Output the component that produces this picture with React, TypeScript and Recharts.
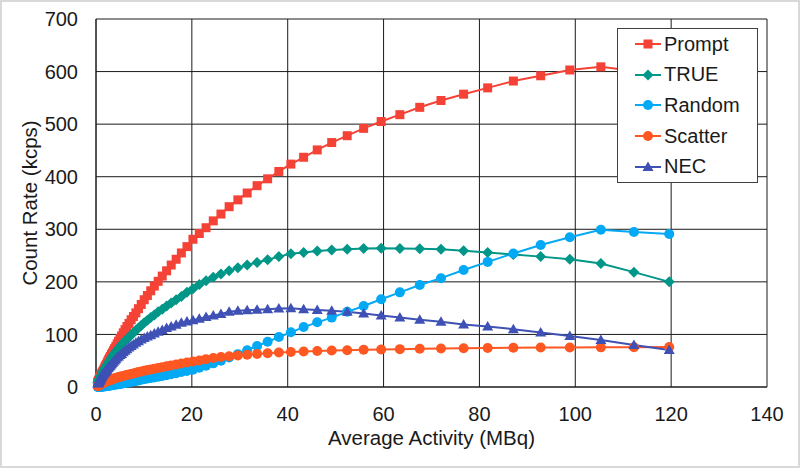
import React from "react";
import { LineChart, Line, XAxis, YAxis, CartesianGrid, Legend } from "recharts";

// Average activity per frame (MBq), first frame = highest activity
const activity = [
  119.6, 112.24, 105.34, 98.86, 92.78, 87.08, 81.72, 76.7, 71.98, 67.55,
  63.4, 59.5, 55.84, 52.41, 49.18, 46.16, 43.32, 40.66, 38.15, 35.81,
  33.61, 31.54, 29.6, 27.78, 26.07, 24.47, 22.96, 21.55, 20.23, 18.98,
  17.81, 16.72, 15.69, 14.73, 13.82, 12.97, 12.17, 11.42, 10.72, 10.06,
  9.44, 8.86, 8.32, 7.81, 7.33, 6.88, 6.45, 6.06, 5.68, 5.33,
  5.01, 4.7, 4.41, 4.14, 3.88, 3.64, 3.42, 3.21, 3.01, 2.83,
  2.65, 2.49, 2.34, 2.19, 2.06, 1.93, 1.81, 1.7, 1.6, 1.5,
  1.41, 1.32, 1.24, 1.16, 1.09, 1.02, 0.96, 0.9, 0.85, 0.79,
  0.75, 0.7, 0.66, 0.62, 0.58, 0.54, 0.51, 0.48, 0.45, 0.42,
  0.4,
];

// Count rates (kcps)
const prompt = [
  588, 601, 609, 603, 592, 582, 569, 557, 545, 532,
  518, 505, 492, 478, 465, 451, 437, 424, 410, 396,
  383, 369, 356, 343, 329, 316, 303, 292, 281, 267,
  255, 243, 232, 221, 211, 201, 192, 183, 174, 166,
  157, 149, 141, 134, 128, 121, 115, 109, 103, 97,
  92, 87, 82, 77, 73, 69, 65, 62, 58, 55,
  52, 49, 46, 43, 41, 39, 36, 34, 32, 30,
  29, 27, 26, 24, 23, 21, 20, 19, 18, 17,
  16, 15, 14, 13, 12.3, 11.5, 10.8, 10.2, 9.6, 9,
  8.5,
];

const trueRate = [
  200, 218.5, 235, 243, 248, 252, 256, 259, 262, 263,
  263.5, 264, 263.5, 262, 260.5, 258.5, 256, 253.5, 248, 242,
  237, 232, 227, 221, 215, 209, 202, 195, 187, 180,
  172, 166, 160, 154, 148, 143, 137, 132, 127, 122,
  117, 112, 108, 103, 99, 95, 91, 87, 84, 80,
  77, 73, 70, 67, 64, 61, 58, 55, 52, 49,
  47, 44, 42, 40, 38, 36, 34, 33, 31, 29,
  27, 25, 24, 22, 21, 20, 18.8, 17.6, 16.6, 15.4,
  14.6, 13.7, 12.9, 12.1, 11.3, 10.5, 9.9, 9.4, 8.8, 8.2,
  7.8,
];

const random = [
  291, 295, 299, 285, 270, 254, 238, 222.5, 207, 194,
  180, 167, 154, 143, 132, 123, 114, 104, 95, 86,
  78, 70, 62.5, 56, 50, 45, 40.5, 36.5, 33, 30.6,
  28.4, 26.3, 24.3, 22.5, 21, 19.5, 18, 17, 16, 15,
  13.7, 12.6, 11.6, 10.7, 9.8, 9, 8.3, 7.6, 7, 6.4,
  5.9, 5.4, 5, 4.6, 4.2, 3.8, 3.5, 3.2, 2.9, 2.7,
  2.4, 2.2, 2, 1.8, 1.6, 1.5, 1.4, 1.3, 1.2, 1.1,
  1, 0.9, 0.9, 0.8, 0.7, 0.7, 0.62, 0.58, 0.55, 0.5,
  0.47, 0.44, 0.41, 0.38, 0.35, 0.33, 0.31, 0.29, 0.27, 0.25,
  0.24,
];

const scatter = [
  76, 75.6, 75.4, 75.2, 75, 74.6, 74.2, 73.6, 73.2, 72.6,
  72, 71.5, 70.8, 70, 69.3, 68.5, 67.5, 66.5, 65.5, 64.3,
  63, 61.5, 60, 58.5, 57, 55, 53, 50.5, 48.5, 46.5,
  44.6, 42.8, 41.1, 39.5, 37.8, 36.2, 34.8, 33.4, 32.1, 30.9,
  29.6, 28.3, 27, 25.8, 24.7, 23.7, 22.7, 21.8, 20.9, 20.1,
  19.4, 18.7, 18, 17.1, 16.3, 15.5, 14.7, 14, 13.4, 12.8,
  12.2, 11.6, 11.1, 10.6, 10.2, 9.7, 9.1, 8.5, 8, 7.5,
  7, 6.6, 6.2, 5.8, 5.5, 5.1, 4.8, 4.5, 4.25, 3.95,
  3.75, 3.5, 3.3, 3.1, 2.9, 2.7, 2.55, 2.4, 2.25, 2.1,
  2,
];

const nec = [
  70.5, 80, 89.5, 97, 103.5, 110, 115, 119, 124, 128,
  132, 136, 140, 143.3, 145, 146.5, 148, 150, 149.5, 148,
  147, 146, 145, 143, 139, 136, 133, 130, 127, 124.5,
  122, 118.5, 115, 112, 108.5, 105, 102, 98.5, 96, 93,
  90.5, 87, 84, 81, 78, 75, 72, 69, 66, 63,
  60.7, 58, 56, 53, 50.5, 48, 45.7, 43.5, 41, 39.5,
  37.6, 36, 34, 32, 30.6, 29, 28, 26.7, 25.5, 24.3,
  23.3, 22.2, 21, 19.7, 18.5, 17.3, 16.3, 15.3, 14.5, 13.4,
  12.8, 11.9, 11.2, 10.5, 9.9, 9.2, 8.7, 8.2, 7.7, 7.1,
  6.8,
];

const xTicks = [0, 20, 40, 60, 80, 100, 120, 140];
const yTicks = [0, 100, 200, 300, 400, 500, 600, 700];

type Shape = "square" | "diamond" | "circle" | "triangle";

const series: { key: string; name: string; color: string; shape: Shape }[] = [
  { key: "prompt", name: "Prompt", color: "#F44336", shape: "square" },
  { key: "trueRate", name: "TRUE", color: "#009688", shape: "diamond" },
  { key: "random", name: "Random", color: "#03A9F4", shape: "circle" },
  { key: "scatter", name: "Scatter", color: "#FF5722", shape: "circle" },
  { key: "nec", name: "NEC", color: "#3F51B5", shape: "triangle" },
];

const rows = activity.map((x, i) => ({
  x,
  prompt: prompt[i],
  trueRate: trueRate[i],
  random: random[i],
  scatter: scatter[i],
  nec: nec[i],
}));

const FONT = "'Liberation Sans', Arial, sans-serif";
const INK = "#1a1a1a";
const TEXT_SIZE = 20;

function marker(shape: Shape, cx: number, cy: number, color: string, key?: React.Key) {
  if (cx == null || cy == null) return <g key={key} />;
  switch (shape) {
    case "square":
      return <rect key={key} x={cx - 4.5} y={cy - 4.5} width={9} height={9} fill={color} />;
    case "diamond":
      return (
        <polygon
          key={key}
          points={`${cx},${cy - 5.5} ${cx + 5.5},${cy} ${cx},${cy + 5.5} ${cx - 5.5},${cy}`}
          fill={color}
        />
      );
    case "triangle":
      return (
        <polygon
          key={key}
          points={`${cx},${cy - 5.5} ${cx + 5.5},${cy + 4} ${cx - 5.5},${cy + 4}`}
          fill={color}
        />
      );
    default:
      return <circle key={key} cx={cx} cy={cy} r={5} fill={color} />;
  }
}

function LegendBox() {
  return (
    <div
      style={{
        width: 139,
        border: "1px solid #404040",
        background: "#fff",
        fontFamily: FONT,
        fontSize: TEXT_SIZE,
        color: INK,
      }}
    >
      {series.map((s) => (
        <div key={s.key} style={{ height: 30.6, display: "flex", alignItems: "center" }}>
          <svg width={26} height={14} style={{ marginLeft: 17, marginRight: 3 }}>
            <line x1={0} y1={7} x2={26} y2={7} stroke={s.color} strokeWidth={2} />
            {marker(s.shape, 13, 7, s.color)}
          </svg>
          <span>{s.name}</span>
        </div>
      ))}
    </div>
  );
}

export default function App() {
  return (
    <div style={{ position: "relative", width: 800, height: 468, background: "#fff" }}>
      <style>{"body{margin:0}"}</style>
      <LineChart
        width={800}
        height={468}
        data={rows}
        margin={{ top: 19, right: 33, left: 36, bottom: 21 }}
        style={{ fontFamily: FONT }}
      >
        <CartesianGrid stroke={INK} strokeWidth={1} />
        <XAxis
          dataKey="x"
          type="number"
          domain={[0, 140]}
          ticks={xTicks}
          interval={0}
          height={60}
          axisLine={{ stroke: INK }}
          tickLine={false}
          tickSize={0}
          tickMargin={20}
          tick={{ fill: INK, fontSize: TEXT_SIZE }}
          label={{
            content: ({ viewBox }: any) => (
              <text
                x={viewBox.x + viewBox.width / 2}
                y={445}
                textAnchor="middle"
                fill={INK}
                fontSize={20.5}
              >
                Average Activity (MBq)
              </text>
            ),
          }}
        />
        <YAxis
          type="number"
          domain={[0, 700]}
          ticks={yTicks}
          interval={0}
          width={60}
          axisLine={{ stroke: INK }}
          tickLine={false}
          tickSize={0}
          tickMargin={18}
          tick={{ fill: INK, fontSize: TEXT_SIZE }}
          label={{
            content: ({ viewBox }: any) => {
              const cy = viewBox.y + viewBox.height / 2;
              return (
                <text
                  x={29}
                  y={cy}
                  transform={`rotate(-90, 29, ${cy})`}
                  textAnchor="middle"
                  dominantBaseline="central"
                  fill={INK}
                  fontSize={20.5}
                >
                  Count Rate (kcps)
                </text>
              );
            },
          }}
        />
        {series.map((s) => (
          <Line
            key={s.key}
            dataKey={s.key}
            name={s.name}
            type="linear"
            stroke={s.color}
            strokeWidth={2}
            dot={(p: any) => marker(s.shape, p.cx, p.cy, s.color, `${s.key}-${p.index}`)}
            activeDot={false}
            isAnimationActive={false}
          />
        ))}
        <Legend
          layout="horizontal"
          verticalAlign="middle"
          align="center"
          content={() => <LegendBox />}
          wrapperStyle={{ position: "absolute", left: 617, top: 28, width: 141 }}
        />
      </LineChart>
      <div
        style={{
          position: "absolute",
          inset: 0,
          border: "2px solid #d9d9d9",
          pointerEvents: "none",
        }}
      />
    </div>
  );
}
